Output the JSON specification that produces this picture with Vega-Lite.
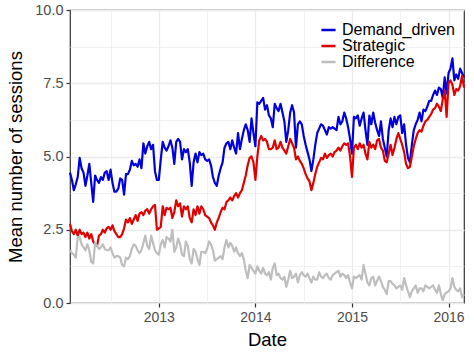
{
 "$schema": "https://vega.github.io/schema/vega-lite/v6.json",
 "width": 394, "height": 293,
 "autosize": {"type": "none"},
 "padding": {"left": 70, "top": 10, "right": 10, "bottom": 52},
 "background": "white",
 "config": {"view": {"stroke": "#333333", "strokeWidth": 1.2}, "font": "Liberation Sans"},
 "data": {"values": [
{"t":2012.08,"Demand_driven":4.45,"Strategic":2.7,"Difference":1.8},
{"t":2012.10,"Demand_driven":4.2,"Strategic":2.45,"Difference":1.7},
{"t":2012.12,"Demand_driven":3.85,"Strategic":2.35,"Difference":1.65},
{"t":2012.14,"Demand_driven":4.05,"Strategic":2.5,"Difference":1.55},
{"t":2012.16,"Demand_driven":4.3,"Strategic":2.3,"Difference":2.25},
{"t":2012.18,"Demand_driven":4.95,"Strategic":2.5,"Difference":2.25},
{"t":2012.20,"Demand_driven":4.6,"Strategic":2.35,"Difference":2.0},
{"t":2012.22,"Demand_driven":4.45,"Strategic":2.4,"Difference":1.9},
{"t":2012.24,"Demand_driven":4.0,"Strategic":2.25,"Difference":1.8},
{"t":2012.26,"Demand_driven":4.35,"Strategic":2.4,"Difference":2.0},
{"t":2012.28,"Demand_driven":4.75,"Strategic":2.2,"Difference":1.8},
{"t":2012.30,"Demand_driven":4.1,"Strategic":2.35,"Difference":1.4},
{"t":2012.32,"Demand_driven":3.45,"Strategic":2.1,"Difference":1.35},
{"t":2012.34,"Demand_driven":4.35,"Strategic":2.0,"Difference":2.05},
{"t":2012.36,"Demand_driven":4.2,"Strategic":1.95,"Difference":1.95},
{"t":2012.38,"Demand_driven":4.1,"Strategic":2.3,"Difference":1.85},
{"t":2012.40,"Demand_driven":4.3,"Strategic":2.35,"Difference":1.9},
{"t":2012.42,"Demand_driven":4.2,"Strategic":2.5,"Difference":2.0},
{"t":2012.44,"Demand_driven":4.45,"Strategic":2.4,"Difference":1.85},
{"t":2012.46,"Demand_driven":4.5,"Strategic":2.55,"Difference":1.8},
{"t":2012.48,"Demand_driven":4.2,"Strategic":2.6,"Difference":1.8},
{"t":2012.50,"Demand_driven":4.55,"Strategic":2.5,"Difference":1.9},
{"t":2012.52,"Demand_driven":4.1,"Strategic":2.65,"Difference":1.7},
{"t":2012.54,"Demand_driven":3.8,"Strategic":2.45,"Difference":1.55},
{"t":2012.56,"Demand_driven":3.8,"Strategic":2.35,"Difference":1.6},
{"t":2012.58,"Demand_driven":3.9,"Strategic":2.25,"Difference":1.6},
{"t":2012.60,"Demand_driven":4.25,"Strategic":2.25,"Difference":1.55},
{"t":2012.62,"Demand_driven":4.2,"Strategic":2.35,"Difference":1.3},
{"t":2012.64,"Demand_driven":3.7,"Strategic":2.55,"Difference":1.25},
{"t":2012.66,"Demand_driven":4.4,"Strategic":2.85,"Difference":1.55},
{"t":2012.68,"Demand_driven":4.4,"Strategic":2.75,"Difference":1.5},
{"t":2012.70,"Demand_driven":4.55,"Strategic":2.9,"Difference":1.6},
{"t":2012.72,"Demand_driven":4.85,"Strategic":2.7,"Difference":1.85},
{"t":2012.74,"Demand_driven":4.7,"Strategic":2.85,"Difference":2.0},
{"t":2012.76,"Demand_driven":4.75,"Strategic":3.0,"Difference":1.95},
{"t":2012.78,"Demand_driven":4.65,"Strategic":2.8,"Difference":1.8},
{"t":2012.80,"Demand_driven":4.9,"Strategic":3.05,"Difference":1.7},
{"t":2012.82,"Demand_driven":4.6,"Strategic":3.1,"Difference":1.8},
{"t":2012.84,"Demand_driven":5.45,"Strategic":3.0,"Difference":2.05},
{"t":2012.86,"Demand_driven":5.1,"Strategic":3.15,"Difference":2.3},
{"t":2012.88,"Demand_driven":5.35,"Strategic":3.2,"Difference":1.95},
{"t":2012.90,"Demand_driven":5.5,"Strategic":3.05,"Difference":1.85},
{"t":2012.92,"Demand_driven":5.25,"Strategic":3.2,"Difference":2.3},
{"t":2012.94,"Demand_driven":5.4,"Strategic":3.3,"Difference":2.05},
{"t":2012.96,"Demand_driven":4.5,"Strategic":3.35,"Difference":1.8},
{"t":2012.98,"Demand_driven":4.2,"Strategic":2.5,"Difference":1.7},
{"t":2013.00,"Demand_driven":4.2,"Strategic":2.55,"Difference":1.65},
{"t":2013.02,"Demand_driven":4.9,"Strategic":2.6,"Difference":2.0},
{"t":2013.04,"Demand_driven":5.5,"Strategic":3.3,"Difference":2.15},
{"t":2013.06,"Demand_driven":5.3,"Strategic":3.0,"Difference":1.9},
{"t":2013.08,"Demand_driven":5.2,"Strategic":3.25,"Difference":2.25},
{"t":2013.10,"Demand_driven":5.35,"Strategic":3.2,"Difference":2.2},
{"t":2013.12,"Demand_driven":5.55,"Strategic":3.25,"Difference":2.1},
{"t":2013.14,"Demand_driven":5.3,"Strategic":2.9,"Difference":2.5},
{"t":2013.16,"Demand_driven":4.75,"Strategic":3.1,"Difference":1.75},
{"t":2013.18,"Demand_driven":5.5,"Strategic":3.5,"Difference":1.9},
{"t":2013.20,"Demand_driven":5.6,"Strategic":3.3,"Difference":2.2},
{"t":2013.22,"Demand_driven":5.5,"Strategic":3.4,"Difference":2.0},
{"t":2013.24,"Demand_driven":4.9,"Strategic":2.95,"Difference":1.65},
{"t":2013.26,"Demand_driven":5.25,"Strategic":3.3,"Difference":1.6},
{"t":2013.28,"Demand_driven":5.15,"Strategic":3.2,"Difference":2.1},
{"t":2013.30,"Demand_driven":5.25,"Strategic":3.3,"Difference":1.95},
{"t":2013.32,"Demand_driven":4.8,"Strategic":2.9,"Difference":1.5},
{"t":2013.34,"Demand_driven":4.0,"Strategic":2.75,"Difference":1.35},
{"t":2013.36,"Demand_driven":4.8,"Strategic":3.2,"Difference":1.85},
{"t":2013.38,"Demand_driven":5.1,"Strategic":3.0,"Difference":1.75},
{"t":2013.40,"Demand_driven":4.8,"Strategic":3.3,"Difference":1.5},
{"t":2013.42,"Demand_driven":5.15,"Strategic":3.05,"Difference":1.3},
{"t":2013.44,"Demand_driven":5.05,"Strategic":3.3,"Difference":1.75},
{"t":2013.46,"Demand_driven":5.1,"Strategic":3.2,"Difference":1.75},
{"t":2013.48,"Demand_driven":4.9,"Strategic":3.0,"Difference":1.7},
{"t":2013.50,"Demand_driven":4.85,"Strategic":2.95,"Difference":1.85},
{"t":2013.52,"Demand_driven":4.9,"Strategic":2.9,"Difference":2.1},
{"t":2013.54,"Demand_driven":4.7,"Strategic":2.75,"Difference":2.0},
{"t":2013.56,"Demand_driven":4.3,"Strategic":2.65,"Difference":1.8},
{"t":2013.58,"Demand_driven":4.1,"Strategic":2.5,"Difference":1.45},
{"t":2013.60,"Demand_driven":4.0,"Strategic":2.75,"Difference":1.5},
{"t":2013.62,"Demand_driven":4.35,"Strategic":2.9,"Difference":1.55},
{"t":2013.64,"Demand_driven":4.6,"Strategic":3.1,"Difference":1.6},
{"t":2013.66,"Demand_driven":4.8,"Strategic":3.25,"Difference":1.5},
{"t":2013.68,"Demand_driven":5.3,"Strategic":3.2,"Difference":1.9},
{"t":2013.70,"Demand_driven":5.45,"Strategic":3.45,"Difference":2.15},
{"t":2013.72,"Demand_driven":5.5,"Strategic":3.5,"Difference":1.9},
{"t":2013.74,"Demand_driven":5.25,"Strategic":3.6,"Difference":2.05},
{"t":2013.76,"Demand_driven":5.55,"Strategic":3.5,"Difference":1.95},
{"t":2013.78,"Demand_driven":5.3,"Strategic":3.65,"Difference":1.75},
{"t":2013.80,"Demand_driven":5.1,"Strategic":3.75,"Difference":1.9},
{"t":2013.82,"Demand_driven":5.8,"Strategic":3.6,"Difference":1.7},
{"t":2013.84,"Demand_driven":5.25,"Strategic":3.75,"Difference":1.6},
{"t":2013.86,"Demand_driven":5.6,"Strategic":3.85,"Difference":1.7},
{"t":2013.88,"Demand_driven":5.9,"Strategic":4.1,"Difference":1.5},
{"t":2013.90,"Demand_driven":6.1,"Strategic":4.35,"Difference":1.1},
{"t":2013.92,"Demand_driven":5.9,"Strategic":4.7,"Difference":0.85},
{"t":2013.94,"Demand_driven":5.5,"Strategic":4.95,"Difference":1.3},
{"t":2013.96,"Demand_driven":6.3,"Strategic":5.0,"Difference":1.2},
{"t":2013.98,"Demand_driven":5.8,"Strategic":4.8,"Difference":1.1},
{"t":2014.00,"Demand_driven":5.35,"Strategic":4.2,"Difference":1.0},
{"t":2014.02,"Demand_driven":6.85,"Strategic":5.0,"Difference":1.25},
{"t":2014.04,"Demand_driven":6.8,"Strategic":5.55,"Difference":1.1},
{"t":2014.06,"Demand_driven":6.9,"Strategic":5.7,"Difference":1.0},
{"t":2014.08,"Demand_driven":7.0,"Strategic":5.55,"Difference":1.2},
{"t":2014.10,"Demand_driven":6.6,"Strategic":5.6,"Difference":1.0},
{"t":2014.12,"Demand_driven":6.75,"Strategic":5.5,"Difference":0.95},
{"t":2014.14,"Demand_driven":6.4,"Strategic":5.25,"Difference":1.05},
{"t":2014.16,"Demand_driven":6.3,"Strategic":5.25,"Difference":0.8},
{"t":2014.18,"Demand_driven":6.0,"Strategic":5.3,"Difference":1.2},
{"t":2014.20,"Demand_driven":6.8,"Strategic":5.55,"Difference":1.35},
{"t":2014.22,"Demand_driven":6.65,"Strategic":5.25,"Difference":0.95},
{"t":2014.24,"Demand_driven":6.55,"Strategic":5.3,"Difference":1.0},
{"t":2014.26,"Demand_driven":6.8,"Strategic":5.5,"Difference":0.85},
{"t":2014.28,"Demand_driven":6.5,"Strategic":5.3,"Difference":0.8},
{"t":2014.30,"Demand_driven":6.2,"Strategic":5.2,"Difference":0.9},
{"t":2014.32,"Demand_driven":5.5,"Strategic":5.1,"Difference":0.55},
{"t":2014.34,"Demand_driven":5.9,"Strategic":5.35,"Difference":0.8},
{"t":2014.36,"Demand_driven":6.5,"Strategic":5.6,"Difference":1.1},
{"t":2014.38,"Demand_driven":6.75,"Strategic":5.45,"Difference":0.85},
{"t":2014.40,"Demand_driven":6.5,"Strategic":5.3,"Difference":0.9},
{"t":2014.42,"Demand_driven":5.3,"Strategic":4.9,"Difference":1.0},
{"t":2014.44,"Demand_driven":6.1,"Strategic":5.0,"Difference":0.7},
{"t":2014.46,"Demand_driven":6.2,"Strategic":4.85,"Difference":0.95},
{"t":2014.48,"Demand_driven":6.1,"Strategic":4.75,"Difference":1.05},
{"t":2014.50,"Demand_driven":5.7,"Strategic":4.6,"Difference":0.95},
{"t":2014.52,"Demand_driven":5.4,"Strategic":4.4,"Difference":0.9},
{"t":2014.54,"Demand_driven":5.15,"Strategic":4.25,"Difference":1.0},
{"t":2014.56,"Demand_driven":4.9,"Strategic":4.15,"Difference":0.85},
{"t":2014.58,"Demand_driven":4.5,"Strategic":3.85,"Difference":0.7},
{"t":2014.60,"Demand_driven":4.9,"Strategic":4.1,"Difference":0.9},
{"t":2014.62,"Demand_driven":5.4,"Strategic":4.4,"Difference":0.8},
{"t":2014.64,"Demand_driven":5.8,"Strategic":4.65,"Difference":0.8},
{"t":2014.66,"Demand_driven":5.95,"Strategic":4.8,"Difference":1.05},
{"t":2014.68,"Demand_driven":6.1,"Strategic":4.95,"Difference":0.9},
{"t":2014.70,"Demand_driven":6.05,"Strategic":4.9,"Difference":0.85},
{"t":2014.72,"Demand_driven":5.9,"Strategic":5.1,"Difference":0.95},
{"t":2014.74,"Demand_driven":5.75,"Strategic":4.95,"Difference":1.0},
{"t":2014.76,"Demand_driven":6.0,"Strategic":5.05,"Difference":0.85},
{"t":2014.78,"Demand_driven":5.95,"Strategic":5.1,"Difference":0.8},
{"t":2014.80,"Demand_driven":6.0,"Strategic":5.0,"Difference":0.95},
{"t":2014.82,"Demand_driven":5.95,"Strategic":5.15,"Difference":1.0},
{"t":2014.84,"Demand_driven":5.9,"Strategic":5.2,"Difference":1.05},
{"t":2014.86,"Demand_driven":6.35,"Strategic":5.3,"Difference":1.1},
{"t":2014.88,"Demand_driven":6.1,"Strategic":5.2,"Difference":0.9},
{"t":2014.90,"Demand_driven":6.2,"Strategic":5.35,"Difference":1.0},
{"t":2014.92,"Demand_driven":6.5,"Strategic":5.45,"Difference":0.95},
{"t":2014.94,"Demand_driven":6.3,"Strategic":5.4,"Difference":0.85},
{"t":2014.96,"Demand_driven":6.0,"Strategic":5.45,"Difference":0.95},
{"t":2014.98,"Demand_driven":5.6,"Strategic":5.0,"Difference":0.7},
{"t":2015.00,"Demand_driven":5.1,"Strategic":4.3,"Difference":0.5},
{"t":2015.02,"Demand_driven":6.35,"Strategic":5.3,"Difference":0.9},
{"t":2015.04,"Demand_driven":6.3,"Strategic":5.4,"Difference":0.85},
{"t":2015.06,"Demand_driven":6.4,"Strategic":5.25,"Difference":0.9},
{"t":2015.08,"Demand_driven":6.05,"Strategic":5.45,"Difference":0.95},
{"t":2015.10,"Demand_driven":6.3,"Strategic":5.3,"Difference":0.8},
{"t":2015.12,"Demand_driven":6.5,"Strategic":5.4,"Difference":1.3},
{"t":2015.14,"Demand_driven":5.9,"Strategic":5.1,"Difference":1.0},
{"t":2015.16,"Demand_driven":5.4,"Strategic":4.9,"Difference":0.7},
{"t":2015.18,"Demand_driven":6.4,"Strategic":5.5,"Difference":0.6},
{"t":2015.20,"Demand_driven":6.1,"Strategic":5.3,"Difference":0.85},
{"t":2015.22,"Demand_driven":6.5,"Strategic":5.4,"Difference":0.9},
{"t":2015.24,"Demand_driven":6.15,"Strategic":5.25,"Difference":0.6},
{"t":2015.26,"Demand_driven":5.9,"Strategic":5.55,"Difference":0.75},
{"t":2015.28,"Demand_driven":5.7,"Strategic":5.6,"Difference":0.9},
{"t":2015.30,"Demand_driven":6.2,"Strategic":5.3,"Difference":0.75},
{"t":2015.32,"Demand_driven":5.6,"Strategic":5.2,"Difference":0.55},
{"t":2015.34,"Demand_driven":5.3,"Strategic":4.85,"Difference":0.45},
{"t":2015.36,"Demand_driven":5.0,"Strategic":4.8,"Difference":0.3},
{"t":2015.38,"Demand_driven":5.9,"Strategic":5.1,"Difference":0.75},
{"t":2015.40,"Demand_driven":6.3,"Strategic":5.4,"Difference":0.75},
{"t":2015.42,"Demand_driven":6.0,"Strategic":5.05,"Difference":0.65},
{"t":2015.44,"Demand_driven":6.35,"Strategic":5.3,"Difference":0.6},
{"t":2015.46,"Demand_driven":6.1,"Strategic":5.6,"Difference":0.5},
{"t":2015.48,"Demand_driven":6.35,"Strategic":5.8,"Difference":0.55},
{"t":2015.50,"Demand_driven":6.4,"Strategic":5.6,"Difference":0.6},
{"t":2015.52,"Demand_driven":5.8,"Strategic":5.4,"Difference":0.45},
{"t":2015.54,"Demand_driven":6.1,"Strategic":5.15,"Difference":0.85},
{"t":2015.56,"Demand_driven":5.4,"Strategic":4.75,"Difference":0.6},
{"t":2015.58,"Demand_driven":4.95,"Strategic":4.6,"Difference":0.4},
{"t":2015.60,"Demand_driven":4.8,"Strategic":4.65,"Difference":0.2},
{"t":2015.62,"Demand_driven":5.4,"Strategic":5.0,"Difference":0.4},
{"t":2015.64,"Demand_driven":5.9,"Strategic":5.35,"Difference":0.5},
{"t":2015.66,"Demand_driven":6.1,"Strategic":5.6,"Difference":0.6},
{"t":2015.68,"Demand_driven":6.25,"Strategic":5.8,"Difference":0.35},
{"t":2015.70,"Demand_driven":6.5,"Strategic":5.9,"Difference":0.5},
{"t":2015.72,"Demand_driven":6.2,"Strategic":5.85,"Difference":0.5},
{"t":2015.74,"Demand_driven":6.6,"Strategic":6.05,"Difference":0.4},
{"t":2015.76,"Demand_driven":6.55,"Strategic":6.2,"Difference":0.6},
{"t":2015.78,"Demand_driven":6.7,"Strategic":6.25,"Difference":0.55},
{"t":2015.80,"Demand_driven":6.9,"Strategic":6.35,"Difference":0.5},
{"t":2015.82,"Demand_driven":6.9,"Strategic":6.45,"Difference":0.55},
{"t":2015.84,"Demand_driven":7.1,"Strategic":6.6,"Difference":0.6},
{"t":2015.86,"Demand_driven":7.25,"Strategic":6.65,"Difference":0.45},
{"t":2015.88,"Demand_driven":7.1,"Strategic":6.8,"Difference":0.35},
{"t":2015.90,"Demand_driven":7.35,"Strategic":6.7,"Difference":0.6},
{"t":2015.92,"Demand_driven":7.3,"Strategic":6.55,"Difference":0.3},
{"t":2015.94,"Demand_driven":7.0,"Strategic":6.95,"Difference":0.1},
{"t":2015.96,"Demand_driven":7.7,"Strategic":7.25,"Difference":0.3},
{"t":2015.98,"Demand_driven":7.15,"Strategic":6.35,"Difference":0.35},
{"t":2016.00,"Demand_driven":7.85,"Strategic":7.5,"Difference":0.4},
{"t":2016.02,"Demand_driven":8.0,"Strategic":7.6,"Difference":0.5},
{"t":2016.04,"Demand_driven":8.35,"Strategic":7.45,"Difference":0.85},
{"t":2016.06,"Demand_driven":7.6,"Strategic":7.1,"Difference":0.55},
{"t":2016.08,"Demand_driven":7.8,"Strategic":7.3,"Difference":0.45},
{"t":2016.10,"Demand_driven":7.65,"Strategic":7.25,"Difference":0.4},
{"t":2016.12,"Demand_driven":8.0,"Strategic":7.4,"Difference":0.5},
{"t":2016.14,"Demand_driven":7.85,"Strategic":7.75,"Difference":0.2},
{"t":2016.16,"Demand_driven":7.7,"Strategic":7.35,"Difference":0.3}
 ]},
 "transform": [{"fold": ["Demand_driven", "Strategic", "Difference"], "as": ["series", "value"]}],
 "mark": {"type": "line", "strokeWidth": 2.2, "strokeJoin": "round"},
 "encoding": {
  "x": {"field": "t", "type": "quantitative", "title": "Date",
   "scale": {"domain": [2012.08, 2016.16], "nice": false, "zero": false},
   "axis": {"values": [2012.5, 2013, 2013.5, 2014, 2014.5, 2015, 2015.5, 2016],
    "labelExpr": "datum.value % 1 === 0 ? format(datum.value, 'd') : ''",
    "domain": false, "gridColor": "#ebebeb",
    "gridWidth": {"condition": {"test": "datum.value % 1 === 0", "value": 1.3}, "value": 0.7},
    "tickOpacity": {"condition": {"test": "datum.value % 1 === 0", "value": 1}, "value": 0},
    "tickColor": "#333333", "tickSize": 4, "tickWidth": 1.2,
    "labelFontSize": 14, "labelColor": "#4d4d4d", "labelPadding": 3, "labelFlush": false,
    "titleFontSize": 18.5, "titleFontWeight": "normal", "titleColor": "#000000", "titlePadding": 6}},
  "y": {"field": "value", "type": "quantitative", "title": "Mean number of sessions",
   "scale": {"domain": [0, 10], "nice": false},
   "axis": {"values": [0, 1.25, 2.5, 3.75, 5, 6.25, 7.5, 8.75, 10],
    "labelExpr": "datum.value % 2.5 === 0 ? format(datum.value, '.1f') : ''",
    "domain": false, "gridColor": "#ebebeb",
    "gridWidth": {"condition": {"test": "datum.value % 2.5 === 0", "value": 1.3}, "value": 0.7},
    "tickOpacity": {"condition": {"test": "datum.value % 2.5 === 0", "value": 1}, "value": 0},
    "tickColor": "#333333", "tickSize": 4, "tickWidth": 1.2,
    "labelFontSize": 14.5, "labelColor": "#4d4d4d", "labelPadding": 3, "labelFlush": false,
    "titleFontSize": 18.5, "titleFontWeight": "normal", "titleColor": "#000000", "titlePadding": 9}},
  "color": {"field": "series", "type": "nominal",
   "scale": {"domain": ["Demand_driven", "Strategic", "Difference"], "range": ["#0000dd", "#e00000", "#bebebe"]},
   "legend": {"title": null, "orient": "none", "legendX": 250, "legendY": 12,
    "symbolType": "stroke", "symbolStrokeWidth": 2.5, "symbolSize": 200,
    "labelFontSize": 16, "labelColor": "#000000", "labelOffset": 5, "rowPadding": 0, "clipHeight": 16}}
 }
}
